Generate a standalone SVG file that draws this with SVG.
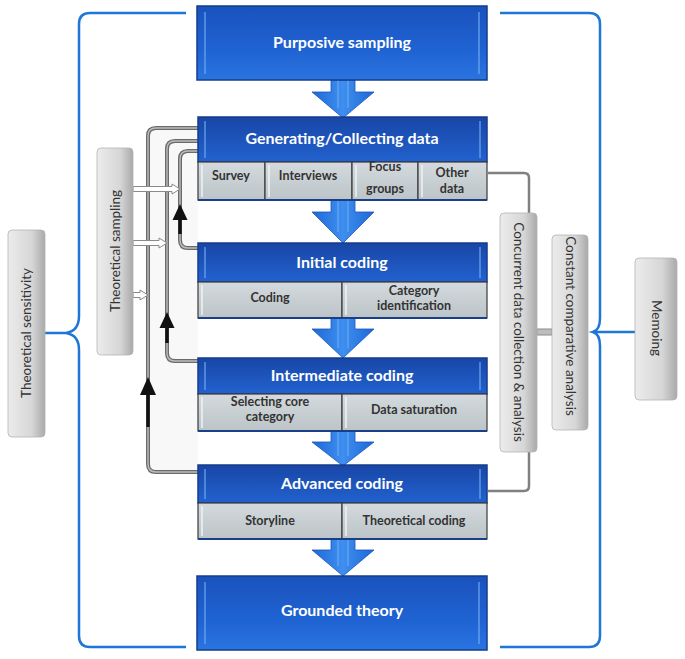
<svg xmlns="http://www.w3.org/2000/svg" width="685" height="659" viewBox="0 0 685 659">
<defs>
<linearGradient id="gBlueFull" x1="0" y1="0" x2="0" y2="1">
<stop offset="0" stop-color="#1a52bd"/><stop offset="0.6" stop-color="#1f63d2"/><stop offset="1" stop-color="#2a74e0"/>
</linearGradient>
<linearGradient id="gHead" x1="0" y1="0" x2="0" y2="1">
<stop offset="0" stop-color="#1846a6"/><stop offset="1" stop-color="#2262cf"/>
</linearGradient>
<linearGradient id="gCell" x1="0" y1="0" x2="0" y2="1">
<stop offset="0" stop-color="#d4dadd"/><stop offset="1" stop-color="#bcc4c8"/>
</linearGradient>
<linearGradient id="gArrow" x1="0" y1="0" x2="1" y2="0">
<stop offset="0" stop-color="#1f68d6"/><stop offset="0.5" stop-color="#3e8ff0"/><stop offset="1" stop-color="#1f68d6"/>
</linearGradient>
<linearGradient id="gGray" x1="0" y1="0" x2="1" y2="0">
<stop offset="0" stop-color="#ececec"/><stop offset="0.65" stop-color="#d6d6d6"/><stop offset="1" stop-color="#a9a9a9"/>
</linearGradient>
<style>
.main{font-family:Lato,"Open Sans","Liberation Sans",sans-serif;font-weight:bold;font-size:16px;fill:#ffffff;text-anchor:middle}
.sub{font-family:Lato,"Open Sans","Liberation Sans",sans-serif;font-weight:bold;font-size:12.5px;fill:#333333;text-anchor:middle}
.side{font-family:Lato,"Open Sans","Liberation Sans",sans-serif;font-size:13.5px;fill:#333333;text-anchor:middle}
.bfull{fill:url(#gBlueFull);stroke:#143d8c;stroke-width:1.5}
.bhead{fill:url(#gHead);stroke:#143d8c;stroke-width:1.5}
.cell{fill:url(#gCell);stroke:#3a3a3a;stroke-width:1.2}
.hl{stroke:#6fa9f2;stroke-width:1.5;opacity:0.8}
.chl{stroke:#eef2f4;stroke-width:1.5}
.fat{fill:url(#gArrow);stroke:#1a56bb;stroke-width:0.8}
.gbox{fill:url(#gGray);stroke:#b4b4b4;stroke-width:0.8}
.brace{fill:none;stroke:#1e76d6;stroke-width:2.5}
.lineO{fill:none;stroke:#6a6a6a;stroke-width:4}
.lineI{fill:none;stroke:#bdbdbd;stroke-width:1.4}
.hollow{fill:#ffffff;stroke:#8a8a8a;stroke-width:1}
.blk{fill:#111111}
.gcon{fill:none;stroke:#808080;stroke-width:2.5}
</style>
</defs>
<rect width="685" height="659" fill="#ffffff"/>
<rect x="148" y="128" width="50" height="344" fill="#f8f8f8"/>

<g id="connectors">
<path class="brace" d="M186 13 H90 Q79 13 79 24 V316 Q79 331 66 333 Q79 335 79 350 V636 Q79 647 90 647 H186"/>
<path class="brace" d="M66 333 H45"/>
<path class="brace" d="M500 13 H589 Q600 13 600 24 V318 Q600 330 593 332 Q600 334 600 346 V636 Q600 647 589 647 H500"/>
<path class="brace" d="M593 332 H635"/>
<path class="lineO" d="M198 128 H156 Q148 128 148 136 V464 Q148 472 156 472 H198"/>
<path class="lineI" d="M198 128 H156 Q148 128 148 136 V464 Q148 472 156 472 H198"/>
<path class="lineO" d="M198 141 H175 Q167 141 167 149 V353 Q167 361 175 361 H198"/>
<path class="lineI" d="M198 141 H175 Q167 141 167 149 V353 Q167 361 175 361 H198"/>
<path class="lineO" d="M198 151 H188 Q180 151 180 159 V240 Q180 248 188 248 H198"/>
<path class="lineI" d="M198 151 H188 Q180 151 180 159 V240 Q180 248 188 248 H198"/>
<rect class="blk" x="178.3" y="218" width="3.4" height="16"/>
<polygon class="blk" points="180,204 187.5,220 172.5,220"/>
<rect class="blk" x="165.3" y="326" width="3.4" height="17"/>
<polygon class="blk" points="167,312 174.5,328 159.5,328"/>
<rect class="blk" x="146.3" y="392" width="3.4" height="35"/>
<polygon class="blk" points="148,377 156,395 140,395"/>
<polygon class="hollow" points="133,186.5 172,186.5 172,184 180,189 172,194 172,191.5 133,191.5"/>
<polygon class="hollow" points="133,240.5 159,240.5 159,238 167,243 159,248 159,245.5 133,245.5"/>
<polygon class="hollow" points="133,292.5 140,292.5 140,290 148,295 140,300 140,297.5 133,297.5"/>
<path class="gcon" d="M488 173 H524 Q529 173 529 178 V213"/>
<path class="gcon" d="M529 452 V486 Q529 491 524 491 H488"/>
<rect x="537" y="329" width="15" height="6" fill="#bdbdbd" stroke="#8c8c8c" stroke-width="1"/>
<polygon class="fat" points="331,80 355,80 355,92 374,92 343,118 312,92 331,92"/>
<polygon class="fat" points="331,200 355,200 355,212 374,212 343,243 312,212 331,212"/>
<polygon class="fat" points="331,318 355,318 355,329 374,329 343,358 312,329 331,329"/>
<polygon class="fat" points="331,431 355,431 355,442 374,442 343,466 312,442 331,442"/>
<polygon class="fat" points="331,539 355,539 355,550 374,550 343,576 312,550 331,550"/>
<path d="M338 80 V108 M348 80 V108" stroke="#7db5f5" stroke-width="1.2" opacity="0.7"/>
<path d="M338 200 V232 M348 200 V232" stroke="#7db5f5" stroke-width="1.2" opacity="0.7"/>
<path d="M338 318 V348 M348 318 V348" stroke="#7db5f5" stroke-width="1.2" opacity="0.7"/>
<path d="M338 431 V456 M348 431 V456" stroke="#7db5f5" stroke-width="1.2" opacity="0.7"/>
<path d="M338 539 V566 M348 539 V566" stroke="#7db5f5" stroke-width="1.2" opacity="0.7"/>
</g>

<g id="theoretical-sensitivity">
<rect class="gbox" x="8" y="230" width="37" height="207" rx="4"/>
<text class="side" transform="translate(30.5 333) rotate(-90)">Theoretical sensitivity</text>
</g>
<g id="theoretical-sampling">
<rect class="gbox" x="97" y="148" width="36" height="207" rx="4"/>
<text class="side" transform="translate(120 251) rotate(-90)">Theoretical sampling</text>
</g>
<g id="concurrent">
<rect class="gbox" x="500" y="213" width="37" height="239" rx="4"/>
<text class="side" transform="translate(514 332) rotate(90)">Concurrent data collection &amp; analysis</text>
</g>
<g id="constant-comparative">
<rect class="gbox" x="552" y="235" width="36" height="195" rx="4"/>
<text class="side" transform="translate(565.5 326) rotate(90)">Constant comparative analysis</text>
</g>
<g id="memoing">
<rect class="gbox" x="635" y="258" width="42" height="142" rx="4"/>
<text class="side" transform="translate(651.5 328) rotate(90)">Memoing</text>
</g>

<g id="purposive-sampling">
<rect class="bfull" x="197" y="6" width="290" height="74"/>
<path class="hl" d="M205 12 V74 M479 12 V74"/>
<text class="main" x="342" y="48">Purposive sampling</text>
</g>

<g id="generating-collecting-data">
<rect class="bhead" x="198" y="117" width="289" height="45"/>
<path class="hl" d="M205 121 V158 M480 121 V158"/>
<text class="main" x="342" y="144">Generating/Collecting data</text>
<rect class="cell" x="198" y="162" width="67" height="38"/>
<rect class="cell" x="265" y="162" width="87" height="38"/>
<rect class="cell" x="352" y="162" width="66" height="38"/>
<rect class="cell" x="418" y="162" width="69" height="38"/>
<path class="chl" d="M202 165 V197 M269 165 V197 M356 165 V197 M422 165 V197"/>
<path d="M198 200 H487" stroke="#1a3f8a" stroke-width="2"/>
<text class="sub" x="231" y="180">Survey</text>
<text class="sub" x="308" y="180">Interviews</text>
<text class="sub" x="385" y="171">Focus</text>
<text class="sub" x="385" y="193">groups</text>
<text class="sub" x="452" y="177">Other</text>
<text class="sub" x="452" y="193">data</text>
</g>

<g id="initial-coding">
<rect class="bhead" x="198" y="243" width="289" height="39"/>
<path class="hl" d="M205 247 V278 M480 247 V278"/>
<text class="main" x="342" y="268">Initial coding</text>
<rect class="cell" x="198" y="282" width="144" height="36"/>
<rect class="cell" x="342" y="282" width="145" height="36"/>
<path class="chl" d="M202 285 V315 M346 285 V315"/>
<path d="M198 318 H487" stroke="#1a3f8a" stroke-width="2"/>
<text class="sub" x="270" y="302">Coding</text>
<text class="sub" x="414" y="295">Category</text>
<text class="sub" x="414" y="310">identification</text>
</g>

<g id="intermediate-coding">
<rect class="bhead" x="198" y="358" width="289" height="36"/>
<path class="hl" d="M205 362 V390 M480 362 V390"/>
<text class="main" x="342" y="381">Intermediate coding</text>
<rect class="cell" x="198" y="394" width="144" height="37"/>
<rect class="cell" x="342" y="394" width="145" height="37"/>
<path class="chl" d="M202 397 V428 M346 397 V428"/>
<path d="M198 431 H487" stroke="#1a3f8a" stroke-width="2"/>
<text class="sub" x="270" y="406">Selecting core</text>
<text class="sub" x="270" y="421">category</text>
<text class="sub" x="414" y="414">Data saturation</text>
</g>

<g id="advanced-coding">
<rect class="bhead" x="198" y="465" width="289" height="38"/>
<path class="hl" d="M205 469 V499 M480 469 V499"/>
<text class="main" x="342" y="489">Advanced coding</text>
<rect class="cell" x="198" y="503" width="144" height="36"/>
<rect class="cell" x="342" y="503" width="145" height="36"/>
<path class="chl" d="M202 506 V536 M346 506 V536"/>
<path d="M198 539 H487" stroke="#1a3f8a" stroke-width="2"/>
<text class="sub" x="270" y="525">Storyline</text>
<text class="sub" x="414" y="525">Theoretical coding</text>
</g>

<g id="grounded-theory">
<rect class="bfull" x="197" y="576" width="290" height="74"/>
<path class="hl" d="M205 582 V644 M479 582 V644"/>
<text class="main" x="342" y="616">Grounded theory</text>
</g>
</svg>
